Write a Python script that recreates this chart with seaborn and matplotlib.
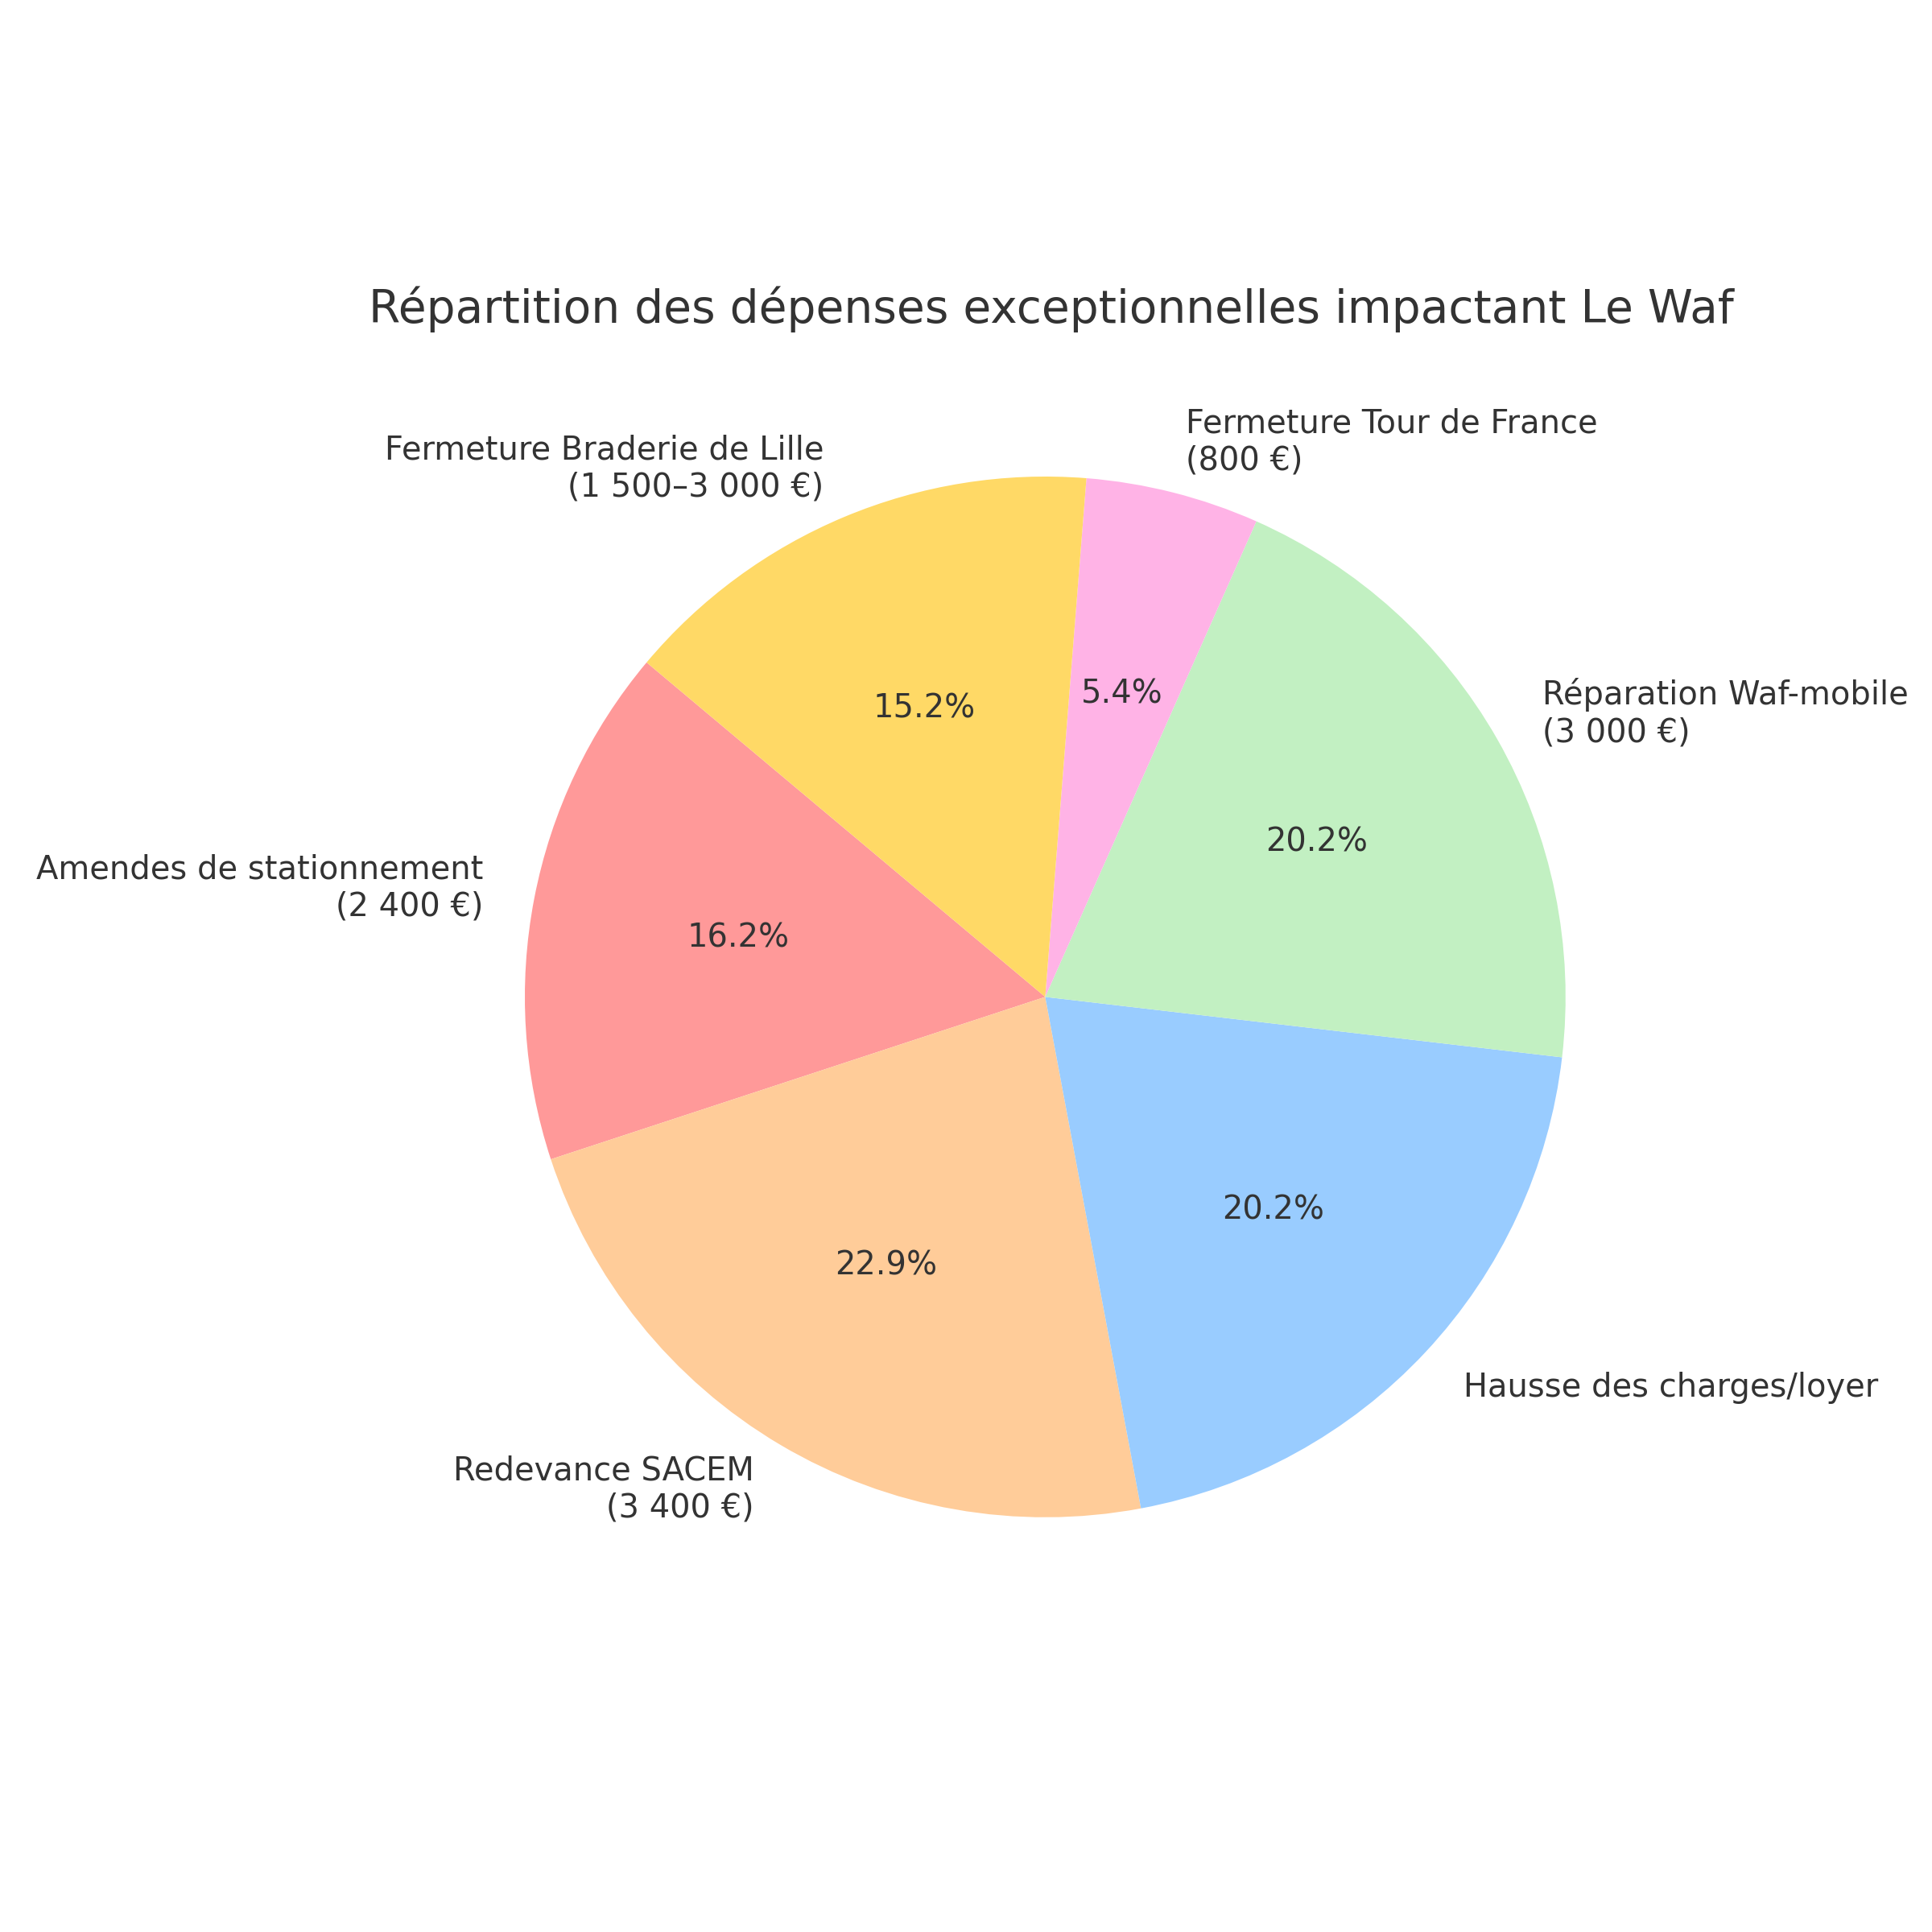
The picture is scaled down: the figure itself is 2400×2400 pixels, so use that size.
import matplotlib
matplotlib.use("Agg")
import matplotlib.pyplot as plt
import seaborn as sns

# Données (en €) ; la Braderie est prise au milieu de la fourchette 1 500–3 000 €
labels = ['Amendes de stationnement\n(2 400 €)',
          'Redevance SACEM\n(3 400 €)',
          'Hausse des charges/loyer',
          'Réparation Waf-mobile\n(3 000 €)',
          'Fermeture Tour de France\n(800 €)',
          'Fermeture Braderie de Lille\n(1 500–3 000 €)']
values = [2400, 3400, 3000, 3000, 800, 2250]
colors = ['#ff9999', '#ffcc99', '#99ccff', '#c2f0c2', '#ffb3e6', '#ffd966']

sns.set_theme(style="white")
plt.rcParams['font.family'] = ['DejaVu Sans']
plt.rcParams['text.color'] = '#333333'

fig = plt.figure(figsize=(10, 10), dpi=240)
ax = fig.add_axes([0.137, 0.08, 0.808, 0.808])
ax.pie(values, labels=labels, colors=colors, autopct='%1.1f%%',
       startangle=140, pctdistance=0.6, labeldistance=1.1,
       wedgeprops={'linewidth': 0},
       textprops={'fontsize': 12, 'color': '#333333'})
ax.set_xlim(-1.5, 1.5)
ax.set_ylim(-1.5, 1.5)
ax.set_aspect('equal')
ax.axis('off')

fig.text(0.544, 0.84, 'Répartition des dépenses exceptionnelles impactant Le Waf',
         ha='center', va='center', fontsize=17, color='#333333')

fig.savefig('out.png', dpi=240)
